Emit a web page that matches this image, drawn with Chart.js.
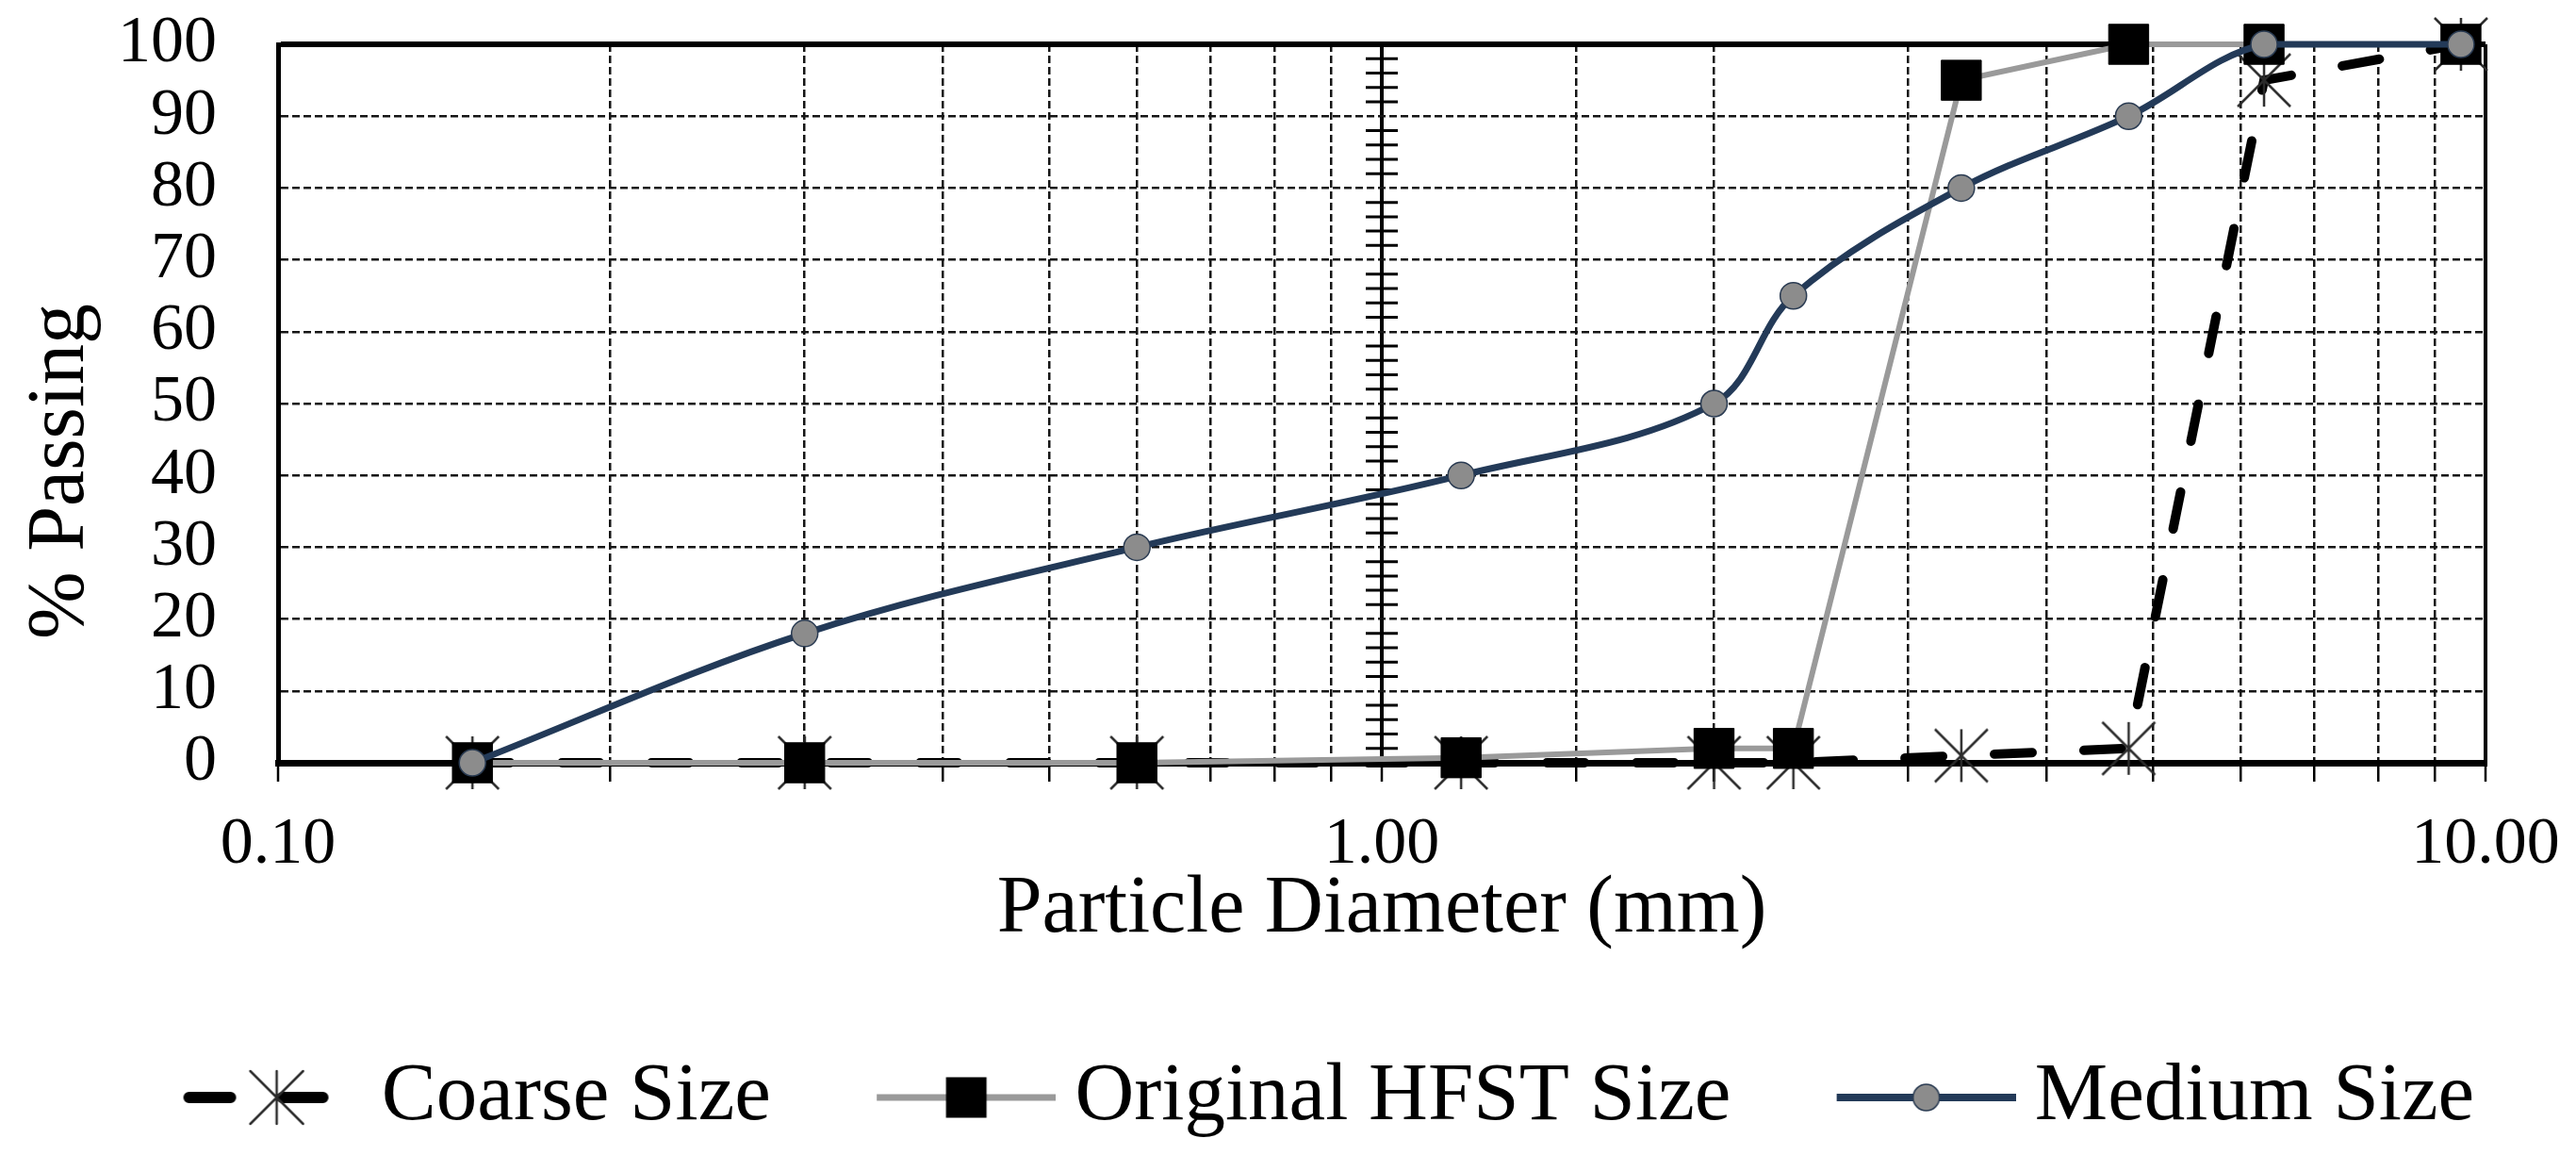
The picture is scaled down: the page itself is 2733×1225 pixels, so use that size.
<!DOCTYPE html>
<html>
<head>
<meta charset="utf-8">
<script src="https://cdn.jsdelivr.net/npm/chart.js@4.4.0/dist/chart.umd.min.js"></script>
<style>
html,body{margin:0;padding:0;background:#fff;}
#wrap{width:2733px;height:1225px;}
</style>
</head>
<body>
<div id="wrap"><canvas id="c" width="2733" height="1225"></canvas></div>
<script>
// ---- data ----
const sieveSizes = [0.15, 0.3, 0.6, 1.18, 2.0, 2.36, 3.35, 4.75, 6.3, 9.5];
const coarseSize = [0, 0, 0, 0, 0, 0, 1, 2, 95, 100];
const hfstSize   = [0, 0, 0, 0.7, 2, 2, 95, 100, 100, 100];
const mediumSize = [0, 18, 30, 40, 50, 65, 80, 90, 100, 100];
const seriesNames = ['Coarse Size', 'Original HFST Size', 'Medium Size'];
const xTickLabels = ['0.10', '1.00', '10.00'];
const xTitle = 'Particle Diameter (mm)';
const yTitle = '% Passing';

const SERIF = "'Liberation Serif', 'Times New Roman', Times, serif";
const NAVY = '#233a58';
const GRAY_LINE = '#9a9a9a';
const GRAY_DOT = '#8c8c8c';

function mk(w, h) { const c = document.createElement('canvas'); c.width = w; c.height = h; return c; }
function drawAsterisk(g, cx, cy, s, lw, color) {
  g.save(); g.strokeStyle = color; g.lineWidth = lw; g.beginPath();
  g.moveTo(cx, cy - s / 2); g.lineTo(cx, cy + s / 2);
  g.moveTo(cx - s / 2, cy - s / 2); g.lineTo(cx + s / 2, cy + s / 2);
  g.moveTo(cx + s / 2, cy - s / 2); g.lineTo(cx - s / 2, cy + s / 2);
  g.stroke(); g.restore();
}
function asteriskImg(s) {
  const c = mk(s + 6, s + 6); const g = c.getContext('2d');
  drawAsterisk(g, (s + 6) / 2, (s + 6) / 2, s, 2.5, '#2b2b2b');
  return c;
}
// legend samples (line + marker)
const LW = 300, LH = 70, L0 = 110, LC = LH / 2;
function legendCoarse() {
  const c = mk(LW, LH); const g = c.getContext('2d');
  g.strokeStyle = '#000'; g.lineWidth = 12; g.lineCap = 'round';
  g.beginPath(); g.moveTo(L0 + 6, LC); g.lineTo(L0 + 50, LC);
  g.moveTo(L0 + 105, LC); g.lineTo(L0 + 148, LC); g.stroke();
  drawAsterisk(g, L0 + 99, LC, 56, 2.5, '#2b2b2b');
  return c;
}
function legendHfst() {
  const c = mk(LW, LH); const g = c.getContext('2d');
  g.strokeStyle = GRAY_LINE; g.lineWidth = 7;
  g.beginPath(); g.moveTo(L0, LC); g.lineTo(LW, LC); g.stroke();
  g.fillStyle = '#000'; g.fillRect(L0 + 95 - 21.5, LC - 21.5, 43, 43);
  return c;
}
function legendMedium() {
  const c = mk(LW, LH); const g = c.getContext('2d');
  g.strokeStyle = NAVY; g.lineWidth = 8;
  g.beginPath(); g.moveTo(L0, LC); g.lineTo(LW, LC); g.stroke();
  g.beginPath(); g.arc(L0 + 95, LC, 14, 0, Math.PI * 2);
  g.fillStyle = GRAY_DOT; g.fill(); g.lineWidth = 1.5; g.strokeStyle = '#2a3b52'; g.stroke();
  return c;
}
const legendImages = [legendCoarse(), legendHfst(), legendMedium()];

function isDecade(v) { const l = Math.log10(v); return Math.abs(l - Math.round(l)) < 1e-6; }
function pts(ys) { return sieveSizes.map((x, i) => ({ x: x, y: ys[i] })); }

const yTitlePlugin = {
  id: 'yTitleCustom',
  afterDraw(chart) {
    const g = chart.ctx;
    g.save();
    g.font = '86px ' + SERIF; g.fillStyle = '#000';
    g.textAlign = 'center'; g.textBaseline = 'alphabetic';
    g.translate(chart.chartArea.left - 207, chart.chartArea.top + 453);
    g.rotate(-Math.PI / 2);
    g.fillText(yTitle, 0, 0);
    g.restore();
  }
};
const minorTickPlugin = {
  id: 'minorTicksAtOne',
  beforeDatasetsDraw(chart) {
    const g = chart.ctx, xs = chart.scales.x, ys = chart.scales.y;
    const x = xs.getPixelForValue(1);
    g.save(); g.strokeStyle = '#000'; g.lineWidth = 3; g.beginPath();
    for (let v = 2; v < 100; v += 2) {
      if (v % 10 === 0) continue;
      const y = ys.getPixelForValue(v);
      g.moveTo(x - 17, y); g.lineTo(x + 17, y);
    }
    g.stroke(); g.restore();
  }
};

Chart.defaults.font.family = SERIF;
Chart.defaults.color = '#000';

new Chart(document.getElementById('c'), {
  type: 'line',
  data: {
    datasets: [
      {
        label: seriesNames[0], data: pts(coarseSize),
        borderColor: '#000', borderWidth: 10, borderDash: [40, 55], borderCapStyle: 'round',
        pointStyle: asteriskImg(56), pointRadius: 28, tension: 0, order: 3, clip: false
      },
      {
        label: seriesNames[1], data: pts(hfstSize),
        borderColor: GRAY_LINE, borderWidth: 6,
        pointStyle: 'rect', pointRadius: 30, pointBackgroundColor: '#000', pointBorderColor: '#000',
        pointBorderWidth: 1, tension: 0, order: 2, clip: false
      },
      {
        label: seriesNames[2], data: pts(mediumSize),
        borderColor: NAVY, borderWidth: 7,
        pointStyle: 'circle', pointRadius: 14, pointBackgroundColor: GRAY_DOT, pointBorderColor: '#2a3b52',
        pointBorderWidth: 1.5, tension: 0.35, order: 1, clip: false
      }
    ]
  },
  options: {
    responsive: false, animation: false, devicePixelRatio: 1,
    layout: { padding: { top: 47, left: 0, right: 0, bottom: 7.5 } },
    plugins: {
      tooltip: { enabled: false },
      legend: {
        position: 'bottom',
        labels: {
          usePointStyle: true, pointStyleWidth: 253.5, padding: 25.5,
          font: { size: 87, family: SERIF }, color: '#000',
          generateLabels(chart) {
            const items = Chart.defaults.plugins.legend.labels.generateLabels(chart);
            items.forEach(it => { it.pointStyle = legendImages[it.datasetIndex]; });
            return items;
          },
          sort: (a, b) => a.datasetIndex - b.datasetIndex
        }
      }
    },
    scales: {
      x: {
        type: 'logarithmic', min: 0.1, max: 10,
        afterFit(s) { s.height = 286; s.paddingRight = 96; s.paddingLeft = 0; },
        ticks: {
          autoSkip: false, maxRotation: 0, minRotation: 0, padding: 26, color: '#000',
          font: { size: 70, family: SERIF, lineHeight: 1.2 },
          callback(v) { return isDecade(v) ? xTickLabels[Math.round(Math.log10(v)) + 1] : ''; }
        },
        grid: {
          color: c => (c.tick && isDecade(c.tick.value)) ? '#000' : '#151515',
          lineWidth: c => (c.tick && isDecade(c.tick.value)) ? 4 : 2.5,
          drawTicks: true, tickLength: 20, tickWidth: 2.5, tickColor: '#000', tickBorderDash: []
        },
        border: {
          display: true, color: '#000', width: 7,
          dash: c => (c.tick && !isDecade(c.tick.value)) ? [8, 4] : []
        },
        title: {
          display: true, text: xTitle, color: '#000',
          font: { size: 86, family: SERIF, lineHeight: 1.2 }, padding: { top: 0, bottom: 78 }
        }
      },
      y: {
        min: 0, max: 100,
        afterFit(s) { s.width = 295; s.paddingTop = 0; s.paddingBottom = 0; },
        ticks: { stepSize: 10, autoSkip: false, padding: 65, color: '#000', font: { size: 70, family: SERIF, lineHeight: 1.2 } },
        grid: {
          drawTicks: false,
          color: c => (c.tick && (c.tick.value === 100 || c.tick.value === 0)) ? '#000' : '#151515',
          lineWidth: c => (c.tick && c.tick.value === 100) ? 6 : 2.5
        },
        border: {
          display: true, color: '#000', width: 5,
          dash: c => (c.tick && c.tick.value !== 100 && c.tick.value !== 0) ? [8, 4] : []
        }
      }
    }
  },
  plugins: [yTitlePlugin, minorTickPlugin]
});
</script>
</body>
</html>
